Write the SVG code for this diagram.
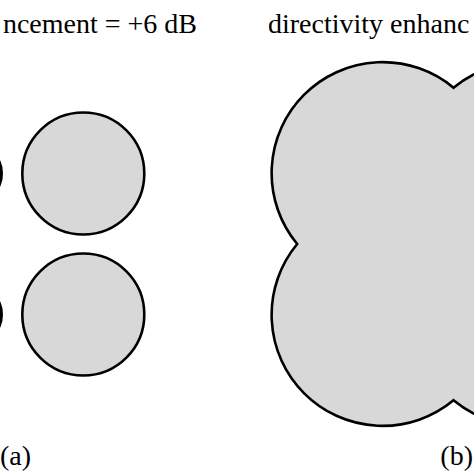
<svg xmlns="http://www.w3.org/2000/svg" width="474" height="474" viewBox="0 0 474 474">
<style>
  .lobe { fill: #d8d8d8; stroke: #000; stroke-width: 2.6; }
  .txt { font-family: "Liberation Serif", "Times New Roman", serif; font-size: 28px; fill: #000; }
  .blob { fill: #000; }
</style>
<rect width="474" height="474" fill="#fff"/>
<g id="panel-a">
  <text class="txt" x="197" y="33" text-anchor="end">ncement = +6 dB</text>
  <g id="edge-blob-top"><ellipse class="blob" cx="-5" cy="173.5" rx="8" ry="17"/></g>
  <g id="edge-blob-bottom"><ellipse class="blob" cx="-5" cy="314.5" rx="8" ry="17"/></g>
  <g id="circle-top"><circle class="lobe" cx="83.3" cy="173.5" r="61"/></g>
  <g id="circle-bottom"><circle class="lobe" cx="83.3" cy="314.5" r="61"/></g>
  <text class="txt" x="31" y="465" text-anchor="end">(a)</text>
</g>
<g id="panel-b">
  <text class="txt" x="268" y="33">directivity enhanc</text>
  <g id="pattern-b">
    <path class="lobe" d="M297.2,244 A111,111 0 0 1 453.5,87.7 A111,111 0 0 1 609.8,244 A111,111 0 0 1 453.5,400.3 A111,111 0 0 1 297.2,244 Z"/>
  </g>
  <text class="txt" x="473" y="465" text-anchor="end">(b)</text>
</g>
<g id="connectors"></g>
</svg>
